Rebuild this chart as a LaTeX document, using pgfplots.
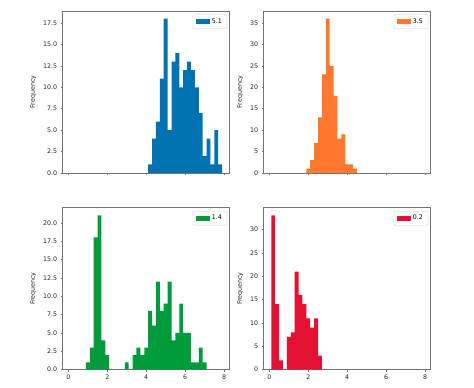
\documentclass[border=0pt]{standalone}
\usepackage{pgfplots}
\pgfplotsset{compat=1.18}
\usepackage{fontspec}
\setmainfont{DejaVu Sans}
\definecolor{cblue}{RGB}{0,114,178}
\definecolor{corange}{RGB}{255,120,45}
\definecolor{cgreen}{RGB}{0,156,60}
\definecolor{cred}{RGB}{228,18,50}
\pgfplotsset{
  hbase/.style={
    scale only axis, width=167pt, height=162pt, anchor=south west,
    xmin=-0.29, xmax=8.29, ymin=0,
    xtick={0,2,4,6,8},
    tick pos=left, tick align=outside, major tick length=2pt,
    axis line style={black!55, line width=0.5pt},
    every tick/.style={black!55, line width=0.5pt},
    tick label style={font=\fontsize{6.3}{7}\selectfont, text=black!85},
    /pgf/number format/assume math mode=true,
    ylabel={Frequency}, ylabel style={font=\fontsize{6.3}{7}\selectfont, text=black!85},
    legend style={at={(0.985,0.978)}, anchor=north east, draw=black!20, rounded corners=1pt,
      font=\fontsize{6.3}{7}\selectfont, inner xsep=3pt, inner ysep=1.8pt},
    legend cell align=left,
  },
  onedec/.style={yticklabel style={/pgf/number format/.cd, fixed, fixed zerofill, precision=1}},
}
\begin{document}
\begin{tikzpicture}
\path[use as bounding box] (0pt,0pt) rectangle (474pt,388pt);
% top left: 5.1
\begin{axis}[hbase, onedec, at={(62.7pt,215pt)}, ymax=18.9,
  ytick={0,2.5,5,7.5,10,12.5,15,17.5}, xticklabels={},
  legend image code/.code={\fill[cblue, sharp corners] (0pt,-2.4pt) rectangle (14pt,2.4pt);}]
\addplot[ybar interval, fill=cblue, draw=none] coordinates {
(4.1,1) (4.3,4) (4.5,6) (4.7,11) (4.9,18) (5.1,5) (5.3,13) (5.5,14) (5.7,10) (5.9,12)
(6.1,13) (6.3,12) (6.5,10) (6.7,7) (6.9,2) (7.1,4) (7.3,1) (7.5,5) (7.7,1) (7.9,1)};
\addlegendentry{5.1}
\end{axis}
% top right: 3.5
\begin{axis}[hbase, at={(263.7pt,215pt)}, ymax=37.8,
  ytick={0,5,10,15,20,25,30,35}, xticklabels={},
  legend image code/.code={\fill[corange, sharp corners] (0pt,-2.4pt) rectangle (14pt,2.4pt);}]
\addplot[ybar interval, fill=corange, draw=none] coordinates {
(1.9,1) (2.1,3) (2.3,7) (2.5,13) (2.7,23) (2.9,36) (3.1,25) (3.3,18) (3.5,8) (3.7,9)
(3.9,2) (4.1,2) (4.3,1) (4.5,1)};
\addlegendentry{3.5}
\end{axis}
% bottom left: 1.4
\begin{axis}[hbase, onedec, at={(62.7pt,18.3pt)}, ymax=22.05,
  ytick={0,2.5,5,7.5,10,12.5,15,17.5,20},
  legend image code/.code={\fill[cgreen, sharp corners] (0pt,-2.4pt) rectangle (14pt,2.4pt);}]
\addplot[ybar interval, fill=cgreen, draw=none] coordinates {
(0.9,1) (1.1,3) (1.3,18) (1.5,21) (1.7,4) (1.9,2) (2.1,0) (2.3,0) (2.5,0) (2.7,0)
(2.9,1) (3.1,0) (3.3,2) (3.5,3) (3.7,2) (3.9,3) (4.1,8) (4.3,6) (4.5,12) (4.7,8)
(4.9,9) (5.1,12) (5.3,4) (5.5,5) (5.7,9) (5.9,5) (6.1,5) (6.3,1) (6.5,1) (6.7,3)
(6.9,1) (7.1,1)};
\addlegendentry{1.4}
\end{axis}
% bottom right: 0.2
\begin{axis}[hbase, at={(263.7pt,18.3pt)}, ymax=34.65,
  ytick={0,5,10,15,20,25,30},
  legend image code/.code={\fill[cred, sharp corners] (0pt,-2.4pt) rectangle (14pt,2.4pt);}]
\addplot[ybar interval, fill=cred, draw=none] coordinates {
(0.1,33) (0.3,14) (0.5,2) (0.7,0) (0.9,7) (1.1,8) (1.3,21) (1.5,16) (1.7,14) (1.9,11)
(2.1,9) (2.3,11) (2.5,3) (2.7,3)};
\addlegendentry{0.2}
\end{axis}
\end{tikzpicture}
\end{document}
